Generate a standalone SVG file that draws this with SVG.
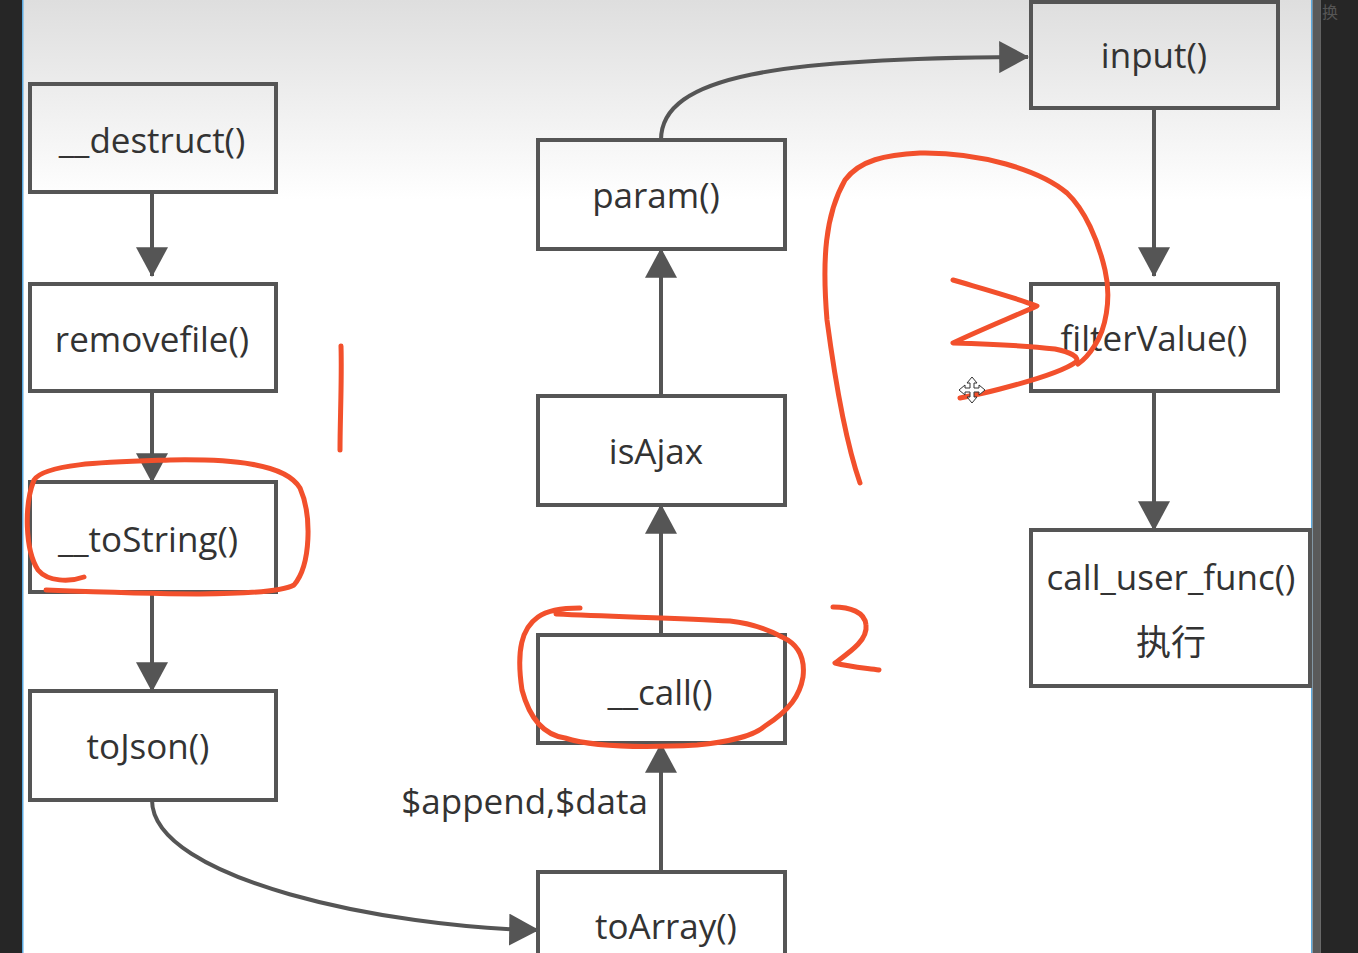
<svg xmlns="http://www.w3.org/2000/svg" width="1358" height="953" viewBox="0 0 1358 953">
<defs>
<linearGradient id="bg" x1="0" y1="0" x2="0" y2="1">
<stop offset="0" stop-color="#dedede"/>
<stop offset="1" stop-color="#ffffff"/>
</linearGradient>
<marker id="ah" markerUnits="userSpaceOnUse" markerWidth="32" markerHeight="32" viewBox="0 0 28 30" refX="27" refY="15" orient="auto">
<path d="M0,0 L28,15 L0,30 Z" fill="#555"/>
</marker>
<style>
.box{fill:none;stroke:#555;stroke-width:4}
.lbl{font-family:"Open Sans","Noto Sans","DejaVu Sans",sans-serif;font-size:35px;fill:#333;text-anchor:middle}
.cn{font-family:"Noto Sans CJK SC","Noto Sans",sans-serif}
.edge{fill:none;stroke:#555;stroke-width:4}
.red{fill:none;stroke:#f2502c;stroke-width:5;stroke-linecap:round;stroke-linejoin:round}
</style>
</defs>
<rect x="0" y="0" width="1358" height="953" fill="#fff"/>
<rect x="0" y="0" width="1358" height="200" fill="url(#bg)"/>
<rect x="0" y="0" width="22" height="953" fill="#262626"/>
<rect x="22" y="0" width="1.5" height="953" fill="#5aa9e0"/>
<rect x="1311" y="0" width="1.5" height="953" fill="#5aa9e0"/>
<rect x="1312.5" y="0" width="8" height="953" fill="#5a5a5a"/>
<rect x="1320.5" y="0" width="38" height="953" fill="#262626"/>
<text x="1322" y="18" font-family="Noto Sans CJK SC,sans-serif" font-size="16" fill="#555">换</text>

<g id="connectors">
<line class="edge" x1="152" y1="192" x2="152" y2="276" marker-end="url(#ah)"/>
<line class="edge" x1="152" y1="391" x2="152" y2="482" marker-end="url(#ah)"/>
<line class="edge" x1="152" y1="592" x2="152" y2="691" marker-end="url(#ah)"/>
<path class="edge" d="M152,800 C152,880 390,928 538,930" marker-end="url(#ah)"/>
<line class="edge" x1="661" y1="872" x2="661" y2="744" marker-end="url(#ah)"/>
<line class="edge" x1="661" y1="635" x2="661" y2="505" marker-end="url(#ah)"/>
<line class="edge" x1="661" y1="396" x2="661" y2="249" marker-end="url(#ah)"/>
<path class="edge" d="M661,140 C661,75 780,58 1028,57" marker-end="url(#ah)"/>
<line class="edge" x1="1154" y1="108" x2="1154" y2="276" marker-end="url(#ah)"/>
<line class="edge" x1="1154" y1="391" x2="1154" y2="530" marker-end="url(#ah)"/>
<text x="648" y="814" class="lbl" style="text-anchor:end">$append,$data</text>
</g>

<g id="n-destruct"><rect class="box" x="30" y="84" width="246" height="108"/><text class="lbl" x="152" y="153">__destruct()</text></g>
<g id="n-removefile"><rect class="box" x="30" y="284" width="246" height="107"/><text class="lbl" x="152" y="352">removefile()</text></g>
<g id="n-tostring"><rect class="box" x="30" y="482" width="246" height="110"/><text class="lbl" x="148" y="552">__toString()</text></g>
<g id="n-tojson"><rect class="box" x="30" y="691" width="246" height="109"/><text class="lbl" x="148" y="759">toJson()</text></g>
<g id="n-param"><rect class="box" x="538" y="140" width="247" height="109"/><text class="lbl" x="656" y="208">param()</text></g>
<g id="n-isajax"><rect class="box" x="538" y="396" width="247" height="109"/><text class="lbl" x="656" y="464">isAjax</text></g>
<g id="n-call"><rect class="box" x="538" y="635" width="247" height="108"/><text class="lbl" x="660" y="705">__call()</text></g>
<g id="n-toarray"><rect class="box" x="538" y="872" width="247" height="90"/><text class="lbl" x="666" y="939">toArray()</text></g>
<g id="n-input"><rect class="box" x="1031" y="2" width="247" height="106"/><text class="lbl" x="1154" y="68">input()</text></g>
<g id="n-filtervalue"><rect class="box" x="1031" y="284" width="247" height="107"/><text class="lbl" x="1154" y="351">filterValue()</text></g>
<g id="n-calluserfunc"><rect class="box" x="1031" y="530" width="279" height="156"/><text class="lbl" x="1171" y="590">call_user_func()</text><text class="lbl cn" x="1171" y="655">执行</text></g>

<g id="annotations">
<path class="red" d="M341,346 C342,380 340,420 340,450"/>
<path class="red" d="M84,577 C70,582 48,582 38,570 C25,550 24,505 34,480 C45,463 110,462 170,460 C230,459 285,463 300,488 C312,515 311,565 294,585 C270,598 150,594 46,590"/>
<path class="red" d="M580,608 C560,608 545,612 538,617 C522,628 516,650 522,690 C530,720 545,735 565,738 C590,746 640,748 697,745 C730,742 755,735 765,726 C790,710 800,695 803,677 C805,660 800,645 782,637 C765,628 750,623 730,621 C680,618 620,617 556,614"/>
<path class="red" d="M833,607 C850,607 865,612 866,625 C868,640 850,652 835,663 C850,667 865,668 879,670"/>
<path class="red" d="M860,483 C845,440 835,380 827,320 C822,260 825,215 845,180 C860,160 885,155 920,153 C980,152 1040,170 1067,193 C1085,210 1098,240 1105,270 C1112,300 1105,330 1095,345 C1090,353 1084,360 1078,364"/>
<path class="red" d="M953,280 C980,288 1010,296 1037,306 C1010,318 980,330 953,343 C990,344 1030,346 1055,349 C1070,352 1080,357 1076,362 C1065,370 1035,380 1000,389 C985,393 970,396 960,398"/>
</g>
<g id="cursor" transform="translate(972,390)">
<path d="M0,-13 L5,-7 L2,-7 L2,-2 L7,-2 L7,-5 L13,0 L7,5 L7,2 L2,2 L2,7 L5,7 L0,13 L-5,7 L-2,7 L-2,2 L-7,2 L-7,5 L-13,0 L-7,-5 L-7,-2 L-2,-2 L-2,-7 L-5,-7 Z" fill="#fff" stroke="#333" stroke-width="1"/>
</g>
</svg>
